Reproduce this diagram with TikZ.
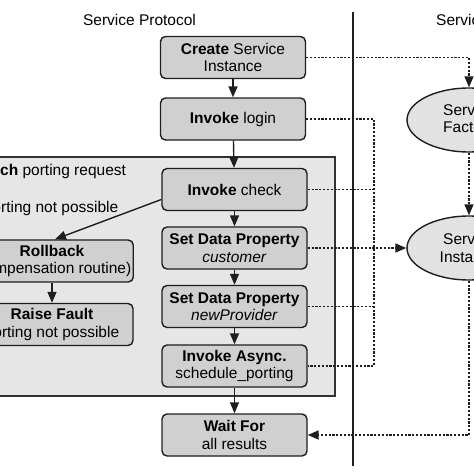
\documentclass[tikz,border=0pt]{standalone}
\usepackage{fontspec}
\setmainfont{Liberation Sans}
\usepackage{tikz}
\usetikzlibrary{arrows.meta,positioning,calc,shapes.geometric}
\definecolor{spink}  {HTML}{1E1E1E}
\definecolor{spbox}  {HTML}{D0D0D0}
\definecolor{spshade}{HTML}{E6E6E6}
\definecolor{spoval} {HTML}{E2E2E2}
\definecolor{sprule} {HTML}{333333}
\tikzset{
  spnode/.style={draw=spink, fill=spbox, rounded corners=5pt, line width=1.4pt,
                 minimum width=145pt, minimum height=42pt, inner sep=2pt, align=center,
                 font=\fontsize{15.5}{17.5}\selectfont},
  spside/.style={spnode, minimum width=162pt},
  spoval/.style={ellipse, draw=spink, fill=spoval, line width=1.4pt, inner sep=0pt,
                 minimum width=124pt, minimum height=64pt, align=center,
                 font=\fontsize{15.5}{17.5}\selectfont},
  spflow/.style={-{Triangle[length=11pt,width=9pt]}, draw=spink, line width=1.4pt},
  spcall/.style={draw=spink, line width=1.5pt, dash pattern=on 2.2pt off 1.6pt},
  spcallarrow/.style={spcall, -{Triangle[length=11pt,width=9pt]}},
  splabel/.style={font=\fontsize{15.5}{17.5}\selectfont, inner sep=0pt},
}

\begin{document}
\begin{tikzpicture}[x=1pt, y=-1pt]
  \useasboundingbox (0,0) rectangle (474,474);
  \clip (0,0) rectangle (474,474);

  % catch region
  \draw[draw=sprule, fill=spshade, line width=1.8pt] (-40,157) rectangle (335,396);
  \draw[spink, line width=1.2pt] (353,12) -- (353,466);

  \node[splabel] (protocol) at (139.5,20) {Service Protocol};
  \node[splabel, anchor=west] (runtime) at (436,20) {Service};
  \node[splabel, anchor=west] (catch) at (-25,171) {\textbf{Catch} porting request};

  \node[spnode] (create)  at (233,57.5)  {\textbf{Create} Service\\Instance};
  \node[spnode] (login)   at (233,119)   {\textbf{Invoke} login};
  \node[spnode] (check)   at (234.5,189.5) {\textbf{Invoke} check};
  \node[spnode] (setcust) at (234.5,248) {\textbf{Set Data Property}\\\textit{customer}};
  \node[spnode] (setprov) at (234.5,306.5) {\textbf{Set Data Property}\\\textit{newProvider}};
  \node[spnode] (async)   at (234.5,366) {\textbf{Invoke Async.}\\schedule\_porting};
  \node[spnode] (wait)    at (234.5,435) {\textbf{Wait For}\\all results};

  \node[spside] (rollback) at (52,261)   {\textbf{Rollback}\\(compensation routine)};
  \node[spside] (raise)    at (52,324.5) {\textbf{Raise Fault}\\porting not possible};

  \node[spoval] (factory)  at (469,120) {Service\\Factory};
  \node[spoval] (instance) at (469,248) {Service\\Instance};

  \coordinate (bus) at (374,366);

  \draw[spflow] (create) -- (login);
  \draw[spflow] (login) -- (check);
  \draw[spflow] (check) -- (setcust);
  \draw[spflow] (setcust) -- (setprov);
  \draw[spflow] (setprov) -- (async);
  \draw[spflow] (async) -- (wait);
  \draw[spflow] ([yshift=-10pt]check.west) -- ([xshift=3pt]rollback.north);
  \node[splabel, anchor=east] (fail) at (118.5,208) {porting not possible};
  \draw[spflow] (rollback) -- (raise);

  \draw[spcallarrow] (create.east) -| (factory.north);
  \draw[spcall] (login.east) -| (bus) -- (async.east);
  \draw[spcall] (check.east) -- (check.east -| bus);
  \draw[spcall] (setprov.east) -- (setprov.east -| bus);
  \draw[spcallarrow] (setcust.east) -- (instance.west);
  \draw[spcallarrow] (factory.south) -- (instance.north);
  \draw[spcallarrow] (instance.south) |- (wait.east);
\end{tikzpicture}
\end{document}
